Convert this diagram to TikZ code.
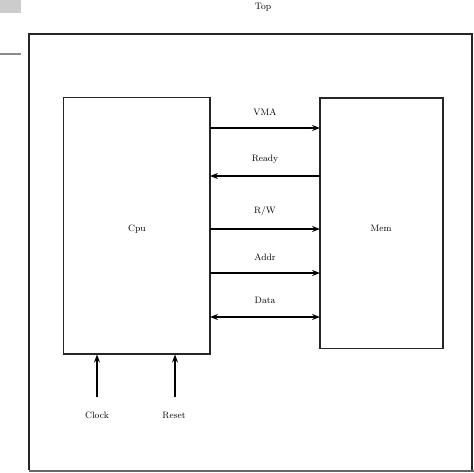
\documentclass[tikz,border=0pt]{standalone}
\usetikzlibrary{arrows.meta}
\begin{document}
\begin{tikzpicture}[x=1pt,y=-1pt,
  blk/.style={draw=black!85,line width=1.3pt,inner sep=0pt},
  lbl/.style={font=\fontsize{9.3}{10}\selectfont,inner sep=0pt},
  sig/.style={line width=1.1pt,-{Stealth[length=8pt,width=6pt]}},
  bisig/.style={line width=1.1pt,{Stealth[length=8pt,width=6pt]}-{Stealth[length=8pt,width=6pt]}}]
\useasboundingbox (0,0) rectangle (474,472);
\fill[black!20] (0,0) rectangle (21,13);
\draw[black!45,line width=1.2pt] (0,54) -- (21,54);
\draw[black!85,line width=1.6pt] (29,470) |- (472,34) -- (472,470);
\fill[black!60] (29,469.5) rectangle (474,472);
\node[lbl] (top) at (263,7) {Top};
\node[blk,minimum width=146.5pt,minimum height=256.5pt] (cpu) at (136.75,225.75) {};
\node[blk,minimum width=123pt,minimum height=250.5pt] (mem) at (381.5,223.25) {};
\node[lbl] (cpul) at (137,229) {Cpu};
\node[lbl] (meml) at (381,228) {Mem};
\coordinate (a1) at (210,128); \coordinate (b1) at (320,128);
\coordinate (a2) at (210,176); \coordinate (b2) at (320,176);
\coordinate (a3) at (210,229); \coordinate (b3) at (320,229);
\coordinate (a4) at (210,273); \coordinate (b4) at (320,273);
\coordinate (a5) at (210,317); \coordinate (b5) at (320,317);
\draw[sig] (a1) -- (b1);
\draw[sig] (b2) -- (a2);
\draw[sig] (a3) -- (b3);
\draw[sig] (a4) -- (b4);
\draw[bisig] (a5) -- (b5);
\node[lbl] (vma) at (265,112.5) {VMA};
\node[lbl] (rdy) at (265,159) {Ready};
\node[lbl] (rw) at (265,211) {R/W};
\node[lbl] (addr) at (265,257.5) {Addr};
\node[lbl] (data) at (265,300) {Data};
\coordinate (c0) at (97,397); \coordinate (c1) at (97,354.5);
\coordinate (r0) at (175,397); \coordinate (r1) at (175,354.5);
\draw[sig] (c0) -- (c1);
\draw[sig] (r0) -- (r1);
\node[lbl] (clk) at (97,415) {Clock};
\node[lbl] (rst) at (174,415) {Reset};
\end{tikzpicture}
\end{document}
